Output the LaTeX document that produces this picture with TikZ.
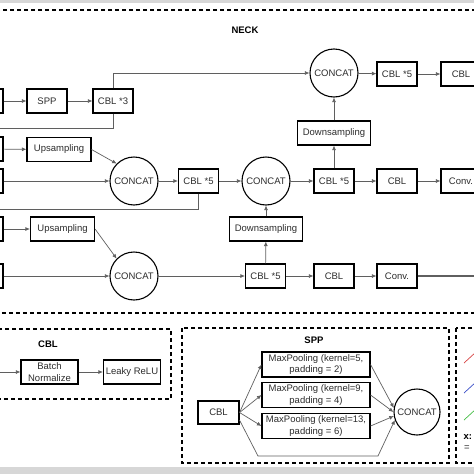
\documentclass[tikz,border=0pt]{standalone}
\usepackage{fontspec}
\setmainfont{Liberation Sans}
\usepackage{tikz}
\usetikzlibrary{arrows.meta,calc}
\definecolor{wire}{RGB}{95,95,95}
\definecolor{ink}{RGB}{45,45,45}
\definecolor{band}{RGB}{215,215,215}
\definecolor{lgred}{RGB}{215,70,70}
\definecolor{lgblue}{RGB}{60,80,200}
\definecolor{lggreen}{RGB}{70,190,70}

\begin{document}
\begin{tikzpicture}[x=1pt,y=-1pt,font=\fontsize{9.5}{11.5}\selectfont,
  bx/.style={draw=black,line width=1.1pt,fill=white,text=ink,minimum width=40pt,minimum height=24pt,inner sep=1pt},
  wbx/.style={bx,minimum width=64pt},
  dbx/.style={bx,minimum width=73pt},
  nbx/.style={bx,minimum width=57pt,align=center},
  mpx/.style={bx,minimum width=108pt,minimum height=25pt,align=center},
  cc/.style={draw=black,line width=1.1pt,circle,fill=white,text=ink,minimum size=48pt,inner sep=0pt},
  wr/.style={wire,line width=0.7pt},
  ar/.style={wr,-{Latex[length=4.5pt,width=4pt]}},
  dsh/.style={line width=1.2pt,dash pattern=on 4pt off 3pt},
  ttl/.style={font=\fontsize{9.5}{11.5}\selectfont\bfseries,text=black}]
  \useasboundingbox (0,0) rectangle (474,474);
  \clip (0,0) rectangle (474,474);
  % page bands
  \fill[band] (0,0) rectangle (474,3);
  \fill[band] (0,467) rectangle (474,474);
  % neck frame
  \draw[dsh] (-10,10) rectangle (490,313);
  \node[ttl] (neck) at (245,30) {NECK};
  % inputs (cut at the left edge)
  \node[bx] (in1) at (-17,101) {};
  \node[bx] (in2) at (-17,149) {};
  \node[bx] (in3) at (-17,181) {};
  \node[bx] (in4) at (-17,229) {};
  \node[bx] (in5) at (-17,276) {};
  % row 1
  \node[bx] (spp) at (47,101) {SPP};
  \node[bx] (cbl3) at (113,101) {CBL *3};
  \coordinate (o1) at (-10,128);
  % top concat
  \node[cc] (cat4) at (334,73) {CONCAT};
  \node[bx] (cbl5t) at (397,74) {CBL *5};
  \node[bx] (cblt) at (461,74) {CBL};
  \node[dbx] (dsA) at (334,133) {Downsampling};
  % middle rows
  \node[wbx] (up1) at (59,149.5) {Upsampling};
  \node[cc] (cat1) at (134,181) {CONCAT};
  \node[bx] (cbl5a) at (198.5,181) {CBL *5};
  \coordinate (o2) at (-10,209);
  \node[cc] (cat2) at (266,181) {CONCAT};
  \node[bx] (cbl5b) at (334,181) {CBL *5};
  \node[bx] (cblb) at (397,181) {CBL};
  \node[bx] (convb) at (461,181) {Conv.};
  % lower rows
  \node[wbx] (up2) at (62.5,229) {Upsampling};
  \node[dbx] (dsB) at (266,229) {Downsampling};
  \node[cc] (cat3) at (134,276) {CONCAT};
  \node[bx] (cbl5c) at (265.5,276) {CBL *5};
  \node[bx] (cblc) at (334,276) {CBL};
  \node[bx] (convc) at (397,276) {Conv.};
  \coordinate (outc) at (490,276);
  % neck connectors
  \draw[ar] (in1) -- (spp);
  \draw[ar] (spp) -- (cbl3);
  \draw[ar] (cbl3.north) |- (cat4.west);
  \draw[wr] (cbl3.south) |- (o1);
  \draw[ar] (cat4) -- (cbl5t);
  \draw[ar] (cbl5t) -- (cblt);
  \draw[ar] (dsA) -- (cat4);
  \draw[ar] (in2) -- (up1);
  \draw[ar] (up1.east) -- (cat1.135);
  \draw[ar] (in3) -- (cat1);
  \draw[ar] (cat1) -- (cbl5a);
  \draw[wr] (cbl5a.south) |- (o2);
  \draw[ar] (cbl5a) -- (cat2);
  \draw[ar] (cat2) -- (cbl5b);
  \draw[ar] (cbl5b) -- (dsA);
  \draw[ar] (cbl5b) -- (cblb);
  \draw[ar] (cblb) -- (convb);
  \draw[ar] (in4) -- (up2);
  \draw[ar] (up2.east) -- (cat3.135);
  \draw[ar] (in5) -- (cat3);
  \draw[ar] (cat3) -- (cbl5c);
  \draw[ar] (cbl5c) -- (dsB);
  \draw[ar] (dsB) -- (cat2);
  \draw[ar] (cbl5c) -- (cblc);
  \draw[ar] (cblc) -- (convc);
  \draw[wr,line width=1.1pt] (convc) -- (outc);
  % CBL block
  \draw[dsh] (-10,329) rectangle (171,399);
  \node[ttl] (cblttl) at (48,344) {CBL};
  \coordinate (i6) at (-10,372);
  \node[nbx] (bn) at (49.5,372) {Batch\\Normalize};
  \node[nbx] (lr) at (132,372) {Leaky ReLU};
  \draw[ar] (i6) -- (bn);
  \draw[ar] (bn) -- (lr);
  % SPP block
  \draw[dsh] (182,328) rectangle (449,463);
  \node[ttl] (sppttl) at (314,340) {SPP};
  \node[bx,minimum width=41pt,minimum height=23pt] (cbls) at (218.5,412.5) {CBL};
  \node[mpx] (mp1) at (316,364.5) {MaxPooling (kernel=5,\\padding = 2)};
  \node[mpx] (mp2) at (316,395) {MaxPooling (kernel=9,\\padding = 4)};
  \node[mpx] (mp3) at (316,426) {MaxPooling (kernel=13,\\padding = 6)};
  \node[cc,minimum size=46pt] (cats) at (417,412) {CONCAT};
  \coordinate (sb1) at (258,456);
  \coordinate (sb2) at (378,456);
  \draw[ar] (cbls.east) -- (mp1.west);
  \draw[ar] (cbls.east) -- (mp2.west);
  \draw[ar] (cbls.east) -- (mp3.west);
  \draw[ar] (mp1.east) -- (cats.170);
  \draw[ar] (mp2.east) -- (cats.west);
  \draw[ar] (mp3.east) -- (cats.190);
  \draw[ar] (cbls.-20) -- (sb1) -- (sb2) -- (cats.-160);
  % legend (cut at the right edge)
  \draw[dsh] (456,328) rectangle (490,463);
  \draw[lgred,line width=0.7pt] (464,363) -- (476,352);
  \draw[lgblue,line width=0.7pt] (464,393) -- (476,382);
  \draw[lggreen,line width=0.7pt] (464,420) -- (476,409);
  \node[ttl,anchor=west,inner sep=0pt] (lgx) at (463.5,437) {x:};
  \node[anchor=west,inner sep=0pt,text=ink] (lgeq) at (464,448) {=};
\end{tikzpicture}
\end{document}
